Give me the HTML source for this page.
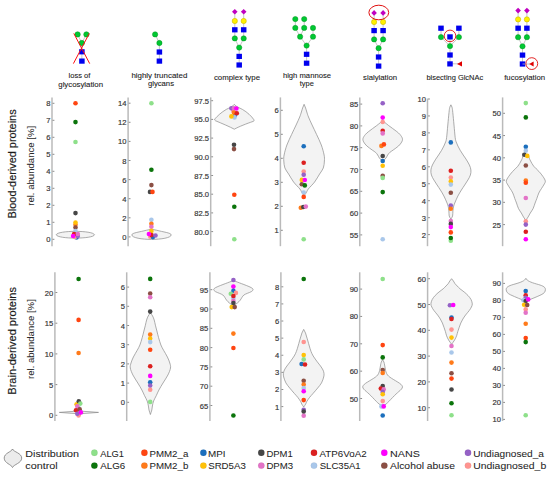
<!DOCTYPE html>
<html><head><meta charset="utf-8"><style>
html,body{margin:0;padding:0;background:#fff;}
svg{display:block;}
text{font-family:"Liberation Sans",sans-serif;}
.tk{font-size:7.6px;fill:#333;text-anchor:end;stroke:#333;stroke-width:0.16px;}
.tt{font-size:8px;fill:#222;stroke:#222;stroke-width:0.1px;}
.lg{font-size:9.5px;fill:#1e1e1e;stroke:#1e1e1e;stroke-width:0.05px;}
</style></head><body>
<svg width="550" height="477" viewBox="0 0 550 477">
<rect width="550" height="477" fill="#fff"/>
<polyline points="77.60,34.40 81.80,43.00 86.40,34.40" fill="none" stroke="#b8b8b8" stroke-width="0.8"/>
<polyline points="81.80,43.00 81.90,61.00" fill="none" stroke="#b8b8b8" stroke-width="0.8"/>
<circle cx="77.60" cy="34.40" r="2.70" fill="#00c832" stroke="#00901a" stroke-width="0.45"/>
<circle cx="86.40" cy="34.40" r="2.70" fill="#00c832" stroke="#00901a" stroke-width="0.45"/>
<circle cx="81.80" cy="43.00" r="2.70" fill="#00c832" stroke="#00901a" stroke-width="0.45"/>
<rect x="79.15" y="49.20" width="5.5" height="5.2" fill="#0000ee"/>
<rect x="79.15" y="58.50" width="5.5" height="5.2" fill="#0000ee"/>
<line x1="73.8" y1="33.4" x2="89.7" y2="63.6" stroke="#ff1010" stroke-width="1"/>
<line x1="89.3" y1="33.4" x2="73.4" y2="63.6" stroke="#ff1010" stroke-width="1"/>
<polyline points="155.10,34.40 159.40,43.00 159.40,61.00" fill="none" stroke="#b8b8b8" stroke-width="0.8"/>
<circle cx="155.10" cy="34.40" r="2.65" fill="#00c832" stroke="#00901a" stroke-width="0.45"/>
<circle cx="159.40" cy="43.00" r="2.65" fill="#00c832" stroke="#00901a" stroke-width="0.45"/>
<rect x="156.65" y="49.40" width="5.5" height="5.2" fill="#0000ee"/>
<rect x="156.65" y="58.50" width="5.5" height="5.2" fill="#0000ee"/>
<polyline points="234.80,11.80 234.80,38.40 239.20,47.60 243.70,38.40 243.70,11.80" fill="none" stroke="#b8b8b8" stroke-width="0.8"/>
<polyline points="239.20,47.60 239.20,65.00" fill="none" stroke="#b8b8b8" stroke-width="0.8"/>
<path d="M234.80,9.00 L237.60,11.80 L234.80,14.60 L232.00,11.80Z" fill="#c000c0"/>
<path d="M243.70,9.00 L246.50,11.80 L243.70,14.60 L240.90,11.80Z" fill="#c000c0"/>
<circle cx="234.80" cy="21.00" r="2.65" fill="#fff000" stroke="#b8a800" stroke-width="0.45"/>
<circle cx="243.70" cy="21.00" r="2.65" fill="#fff000" stroke="#b8a800" stroke-width="0.45"/>
<rect x="232.05" y="27.20" width="5.5" height="5.2" fill="#0000ee"/>
<rect x="240.95" y="27.20" width="5.5" height="5.2" fill="#0000ee"/>
<circle cx="234.80" cy="38.40" r="2.65" fill="#00c832" stroke="#00901a" stroke-width="0.45"/>
<circle cx="243.70" cy="38.40" r="2.65" fill="#00c832" stroke="#00901a" stroke-width="0.45"/>
<circle cx="239.20" cy="47.60" r="2.65" fill="#00c832" stroke="#00901a" stroke-width="0.45"/>
<rect x="236.45" y="53.80" width="5.5" height="5.2" fill="#0000ee"/>
<rect x="236.45" y="62.40" width="5.5" height="5.2" fill="#0000ee"/>
<polyline points="295.30,19.10 295.30,27.90 300.10,36.70 306.60,45.60 313.00,36.70 313.00,27.90" fill="none" stroke="#b8b8b8" stroke-width="0.8"/>
<polyline points="304.20,19.10 304.20,27.90 300.10,36.70" fill="none" stroke="#b8b8b8" stroke-width="0.8"/>
<polyline points="306.60,45.60 306.60,63.10" fill="none" stroke="#b8b8b8" stroke-width="0.8"/>
<circle cx="295.30" cy="19.10" r="2.65" fill="#00c832" stroke="#00901a" stroke-width="0.45"/>
<circle cx="304.20" cy="19.10" r="2.65" fill="#00c832" stroke="#00901a" stroke-width="0.45"/>
<circle cx="295.30" cy="27.90" r="2.65" fill="#00c832" stroke="#00901a" stroke-width="0.45"/>
<circle cx="304.20" cy="27.90" r="2.65" fill="#00c832" stroke="#00901a" stroke-width="0.45"/>
<circle cx="313.00" cy="27.90" r="2.65" fill="#00c832" stroke="#00901a" stroke-width="0.45"/>
<circle cx="300.10" cy="36.70" r="2.65" fill="#00c832" stroke="#00901a" stroke-width="0.45"/>
<circle cx="313.00" cy="36.70" r="2.65" fill="#00c832" stroke="#00901a" stroke-width="0.45"/>
<circle cx="306.60" cy="45.60" r="2.65" fill="#00c832" stroke="#00901a" stroke-width="0.45"/>
<rect x="303.85" y="51.70" width="5.5" height="5.2" fill="#0000ee"/>
<rect x="303.85" y="60.60" width="5.5" height="5.2" fill="#0000ee"/>
<polyline points="374.10,12.90 374.10,39.40 378.60,48.20 383.10,39.40 383.10,12.90" fill="none" stroke="#b8b8b8" stroke-width="0.8"/>
<polyline points="378.60,48.20 378.60,66.10" fill="none" stroke="#b8b8b8" stroke-width="0.8"/>
<path d="M374.10,10.10 L376.90,12.90 L374.10,15.70 L371.30,12.90Z" fill="#c000c0"/>
<path d="M383.10,10.10 L385.90,12.90 L383.10,15.70 L380.30,12.90Z" fill="#c000c0"/>
<circle cx="374.10" cy="22.00" r="2.65" fill="#fff000" stroke="#b8a800" stroke-width="0.45"/>
<circle cx="383.10" cy="22.00" r="2.65" fill="#fff000" stroke="#b8a800" stroke-width="0.45"/>
<rect x="371.35" y="28.00" width="5.5" height="5.2" fill="#0000ee"/>
<rect x="380.35" y="28.00" width="5.5" height="5.2" fill="#0000ee"/>
<circle cx="374.10" cy="39.40" r="2.65" fill="#00c832" stroke="#00901a" stroke-width="0.45"/>
<circle cx="383.10" cy="39.40" r="2.65" fill="#00c832" stroke="#00901a" stroke-width="0.45"/>
<circle cx="378.60" cy="48.20" r="2.65" fill="#00c832" stroke="#00901a" stroke-width="0.45"/>
<rect x="375.85" y="54.40" width="5.5" height="5.2" fill="#0000ee"/>
<rect x="375.85" y="63.50" width="5.5" height="5.2" fill="#0000ee"/>
<ellipse cx="378.8" cy="12.5" rx="9.9" ry="7.3" fill="none" stroke="#e01010" stroke-width="1"/>
<polyline points="441.00,28.20 441.00,37.10 450.00,46.10 458.90,37.10 458.90,28.20" fill="none" stroke="#b8b8b8" stroke-width="0.8"/>
<polyline points="450.00,36.90 450.00,63.80 460.00,63.80" fill="none" stroke="#b8b8b8" stroke-width="0.8"/>
<rect x="438.25" y="25.60" width="5.5" height="5.2" fill="#0000ee"/>
<rect x="456.15" y="25.60" width="5.5" height="5.2" fill="#0000ee"/>
<circle cx="441.00" cy="37.10" r="2.65" fill="#00c832" stroke="#00901a" stroke-width="0.45"/>
<circle cx="458.90" cy="37.10" r="2.65" fill="#00c832" stroke="#00901a" stroke-width="0.45"/>
<rect x="447.25" y="34.30" width="5.5" height="5.2" fill="#0000ee"/>
<circle cx="450.00" cy="46.10" r="2.65" fill="#00c832" stroke="#00901a" stroke-width="0.45"/>
<rect x="447.25" y="52.40" width="5.5" height="5.2" fill="#0000ee"/>
<rect x="447.25" y="61.30" width="5.5" height="5.2" fill="#0000ee"/>
<path d="M457.00,63.90 L462.00,61.30 L462.00,66.50Z" fill="#e00000"/>
<circle cx="450" cy="35.9" r="5.8" fill="none" stroke="#e01010" stroke-width="0.9"/>
<polyline points="518.10,10.60 518.10,37.20 522.50,46.30 526.90,37.20 526.90,10.60" fill="none" stroke="#b8b8b8" stroke-width="0.8"/>
<polyline points="522.50,46.30 522.50,64.00" fill="none" stroke="#b8b8b8" stroke-width="0.8"/>
<path d="M518.10,7.80 L520.90,10.60 L518.10,13.40 L515.30,10.60Z" fill="#c000c0"/>
<path d="M526.90,7.80 L529.70,10.60 L526.90,13.40 L524.10,10.60Z" fill="#c000c0"/>
<circle cx="518.10" cy="19.40" r="2.65" fill="#fff000" stroke="#b8a800" stroke-width="0.45"/>
<circle cx="526.90" cy="19.40" r="2.65" fill="#fff000" stroke="#b8a800" stroke-width="0.45"/>
<rect x="515.35" y="25.60" width="5.5" height="5.2" fill="#0000ee"/>
<rect x="524.15" y="25.60" width="5.5" height="5.2" fill="#0000ee"/>
<circle cx="518.10" cy="37.20" r="2.65" fill="#00c832" stroke="#00901a" stroke-width="0.45"/>
<circle cx="526.90" cy="37.20" r="2.65" fill="#00c832" stroke="#00901a" stroke-width="0.45"/>
<circle cx="522.50" cy="46.30" r="2.65" fill="#00c832" stroke="#00901a" stroke-width="0.45"/>
<rect x="519.75" y="52.50" width="5.5" height="5.2" fill="#0000ee"/>
<rect x="519.75" y="61.40" width="5.5" height="5.2" fill="#0000ee"/>
<polyline points="522.50,64.00 530.00,64.00" fill="none" stroke="#b8b8b8" stroke-width="0.8"/>
<path d="M529.20,64.00 L533.60,61.40 L533.60,66.60Z" fill="#e00000"/>
<circle cx="531.8" cy="63.6" r="5.9" fill="none" stroke="#e01010" stroke-width="0.9"/>
<g class="tt">
<text x="68.6" y="77.8" textLength="21.8" lengthAdjust="spacingAndGlyphs">loss of</text>
<text x="58.3" y="86.5" textLength="44.7" lengthAdjust="spacingAndGlyphs">glycosylation</text>
<text x="131.4" y="77.6" textLength="55.9" lengthAdjust="spacingAndGlyphs">highly truncated</text>
<text x="147.9" y="85.9" textLength="26.1" lengthAdjust="spacingAndGlyphs">glycans</text>
<text x="213.9" y="80.4" textLength="46.1" lengthAdjust="spacingAndGlyphs">complex type</text>
<text x="282.9" y="77.6" textLength="48.1" lengthAdjust="spacingAndGlyphs">high mannose</text>
<text x="299.8" y="85.9" textLength="14" lengthAdjust="spacingAndGlyphs">type</text>
<text x="363.1" y="80.4" textLength="34" lengthAdjust="spacingAndGlyphs">sialylation</text>
<text x="426.4" y="80.4" textLength="56.8" lengthAdjust="spacingAndGlyphs">bisecting GlcNAc</text>
<text x="504.2" y="80.4" textLength="40.9" lengthAdjust="spacingAndGlyphs">fucosylation</text>
</g>
<text transform="translate(16.1,218.4) rotate(-90)" font-size="10.2" fill="#1a1a1a" stroke="#1a1a1a" stroke-width="0.16" textLength="109" lengthAdjust="spacingAndGlyphs">Blood-derived proteins</text>
<text transform="translate(34.1,205.8) rotate(-90)" font-size="8.7" fill="#2a2a2a" stroke="#2a2a2a" stroke-width="0.05" textLength="80" lengthAdjust="spacingAndGlyphs">rel. abundance [%]</text>
<text transform="translate(15.9,394.7) rotate(-90)" font-size="10.2" fill="#1a1a1a" stroke="#1a1a1a" stroke-width="0.16" textLength="107.7" lengthAdjust="spacingAndGlyphs">Brain-derived proteins</text>
<text transform="translate(34.1,379) rotate(-90)" font-size="8.7" fill="#2a2a2a" stroke="#2a2a2a" stroke-width="0.05" textLength="79.8" lengthAdjust="spacingAndGlyphs">rel. abundance [%]</text>
<line x1="52.00" y1="97.40" x2="52.00" y2="246.20" stroke="#bababa" stroke-width="1.5"/>
<line x1="52.60" y1="239.30" x2="54.40" y2="239.30" stroke="#666" stroke-width="0.75"/>
<text x="50.40" y="242.30" class="tk">0</text>
<line x1="52.60" y1="222.30" x2="54.40" y2="222.30" stroke="#666" stroke-width="0.75"/>
<text x="50.40" y="225.30" class="tk">1</text>
<line x1="52.60" y1="205.30" x2="54.40" y2="205.30" stroke="#666" stroke-width="0.75"/>
<text x="50.40" y="208.30" class="tk">2</text>
<line x1="52.60" y1="188.30" x2="54.40" y2="188.30" stroke="#666" stroke-width="0.75"/>
<text x="50.40" y="191.30" class="tk">3</text>
<line x1="52.60" y1="171.30" x2="54.40" y2="171.30" stroke="#666" stroke-width="0.75"/>
<text x="50.40" y="174.30" class="tk">4</text>
<line x1="52.60" y1="154.30" x2="54.40" y2="154.30" stroke="#666" stroke-width="0.75"/>
<text x="50.40" y="157.30" class="tk">5</text>
<line x1="52.60" y1="137.30" x2="54.40" y2="137.30" stroke="#666" stroke-width="0.75"/>
<text x="50.40" y="140.30" class="tk">6</text>
<line x1="52.60" y1="120.30" x2="54.40" y2="120.30" stroke="#666" stroke-width="0.75"/>
<text x="50.40" y="123.30" class="tk">7</text>
<line x1="52.60" y1="103.30" x2="54.40" y2="103.30" stroke="#666" stroke-width="0.75"/>
<text x="50.40" y="106.30" class="tk">8</text>
<path d="M56.2,234.8 C57.5,230.2 93.2,230.2 94.5,234.8 C93.2,239.2 57.5,239.2 56.2,234.8Z" fill="#f3f3f3" stroke="#8a8a8a" stroke-width="0.7"/>
<circle cx="75.50" cy="103.20" r="2.30" fill="#ff4511"/>
<circle cx="75.50" cy="122.10" r="2.30" fill="#0b740b"/>
<circle cx="75.50" cy="142.00" r="2.30" fill="#8ee08a"/>
<circle cx="75.50" cy="213.10" r="2.30" fill="#464646"/>
<circle cx="75.50" cy="224.80" r="2.30" fill="#ff7a1a"/>
<circle cx="75.50" cy="222.50" r="2.30" fill="#ffc107"/>
<circle cx="75.50" cy="227.50" r="2.30" fill="#8b4f44"/>
<circle cx="75.50" cy="231.00" r="2.30" fill="#a9c7ea"/>
<circle cx="76.50" cy="237.50" r="2.30" fill="#1c6fbd"/>
<circle cx="75.00" cy="237.00" r="2.30" fill="#ff9490"/>
<circle cx="77.80" cy="236.00" r="2.30" fill="#9561c6"/>
<circle cx="74.10" cy="234.00" r="2.30" fill="#dc2020"/>
<circle cx="77.80" cy="234.00" r="2.30" fill="#e373c7"/>
<circle cx="73.10" cy="236.00" r="2.30" fill="#ff00ff"/>
<line x1="128.10" y1="97.40" x2="128.10" y2="246.20" stroke="#bababa" stroke-width="1.5"/>
<line x1="128.70" y1="236.90" x2="130.50" y2="236.90" stroke="#666" stroke-width="0.75"/>
<text x="126.50" y="239.90" class="tk">0</text>
<line x1="128.70" y1="217.80" x2="130.50" y2="217.80" stroke="#666" stroke-width="0.75"/>
<text x="126.50" y="220.80" class="tk">2</text>
<line x1="128.70" y1="198.70" x2="130.50" y2="198.70" stroke="#666" stroke-width="0.75"/>
<text x="126.50" y="201.70" class="tk">4</text>
<line x1="128.70" y1="179.60" x2="130.50" y2="179.60" stroke="#666" stroke-width="0.75"/>
<text x="126.50" y="182.60" class="tk">6</text>
<line x1="128.70" y1="160.50" x2="130.50" y2="160.50" stroke="#666" stroke-width="0.75"/>
<text x="126.50" y="163.50" class="tk">8</text>
<line x1="128.70" y1="141.40" x2="130.50" y2="141.40" stroke="#666" stroke-width="0.75"/>
<text x="126.50" y="144.40" class="tk">10</text>
<line x1="128.70" y1="122.30" x2="130.50" y2="122.30" stroke="#666" stroke-width="0.75"/>
<text x="126.50" y="125.30" class="tk">12</text>
<line x1="128.70" y1="103.20" x2="130.50" y2="103.20" stroke="#666" stroke-width="0.75"/>
<text x="126.50" y="106.20" class="tk">14</text>
<path d="M131.8,234.9 C131.8,232.8 140,232 146.5,230.2 Q151.5,228.3 156.5,230.2 C163,232 171.2,232.8 171.2,234.9 C171.2,237.8 161,239.4 151.5,239.4 C142,239.4 131.8,237.8 131.8,234.9Z" fill="#f3f3f3" stroke="#8a8a8a" stroke-width="0.7"/>
<circle cx="151.40" cy="103.20" r="2.30" fill="#8ee08a"/>
<circle cx="151.40" cy="169.70" r="2.30" fill="#0b740b"/>
<circle cx="151.40" cy="185.10" r="2.30" fill="#8b4f44"/>
<circle cx="150.00" cy="191.90" r="2.30" fill="#464646"/>
<circle cx="152.50" cy="191.90" r="2.30" fill="#ff4511"/>
<circle cx="151.40" cy="219.80" r="2.30" fill="#a9c7ea"/>
<circle cx="151.40" cy="223.70" r="2.30" fill="#ff7a1a"/>
<circle cx="151.40" cy="226.70" r="2.30" fill="#e373c7"/>
<circle cx="151.40" cy="230.90" r="2.30" fill="#ffc107"/>
<circle cx="150.30" cy="236.80" r="2.30" fill="#ff9490"/>
<circle cx="152.90" cy="237.10" r="2.30" fill="#1c6fbd"/>
<circle cx="151.50" cy="235.00" r="2.30" fill="#dc2020"/>
<circle cx="155.50" cy="235.50" r="2.30" fill="#9561c6"/>
<circle cx="148.90" cy="234.00" r="2.30" fill="#ff00ff"/>
<line x1="210.70" y1="97.40" x2="210.70" y2="246.20" stroke="#bababa" stroke-width="1.5"/>
<line x1="211.30" y1="100.70" x2="213.10" y2="100.70" stroke="#666" stroke-width="0.75"/>
<text x="209.10" y="103.70" class="tk">97.5</text>
<line x1="211.30" y1="119.40" x2="213.10" y2="119.40" stroke="#666" stroke-width="0.75"/>
<text x="209.10" y="122.40" class="tk">95.0</text>
<line x1="211.30" y1="138.10" x2="213.10" y2="138.10" stroke="#666" stroke-width="0.75"/>
<text x="209.10" y="141.10" class="tk">92.5</text>
<line x1="211.30" y1="156.80" x2="213.10" y2="156.80" stroke="#666" stroke-width="0.75"/>
<text x="209.10" y="159.80" class="tk">90.0</text>
<line x1="211.30" y1="175.50" x2="213.10" y2="175.50" stroke="#666" stroke-width="0.75"/>
<text x="209.10" y="178.50" class="tk">87.5</text>
<line x1="211.30" y1="194.20" x2="213.10" y2="194.20" stroke="#666" stroke-width="0.75"/>
<text x="209.10" y="197.20" class="tk">85.0</text>
<line x1="211.30" y1="212.90" x2="213.10" y2="212.90" stroke="#666" stroke-width="0.75"/>
<text x="209.10" y="215.90" class="tk">82.5</text>
<line x1="211.30" y1="231.60" x2="213.10" y2="231.60" stroke="#666" stroke-width="0.75"/>
<text x="209.10" y="234.60" class="tk">80.0</text>
<path d="M234.3,104.3 C232.5,107 229.5,107.6 226.3,109.4 C221.5,112.2 217.5,115.8 215,118.8 Q213.9,120 215.4,120.7 C222,123.5 230,126.8 234.3,129.2 C238.6,126.8 246.8,123.5 253.2,121.4 Q254.8,120.8 253.8,119.6 C251.5,116.2 247.3,112.2 242.4,109.4 C239.2,107.6 236.2,107 234.3,104.3Z" fill="#f3f3f3" stroke="#8a8a8a" stroke-width="0.7"/>
<circle cx="233.00" cy="110.00" r="2.30" fill="#ff9490"/>
<circle cx="235.00" cy="115.00" r="2.30" fill="#1c6fbd"/>
<circle cx="231.40" cy="108.20" r="2.30" fill="#9561c6"/>
<circle cx="234.00" cy="108.20" r="2.30" fill="#e373c7"/>
<circle cx="236.40" cy="108.50" r="2.30" fill="#ff00ff"/>
<circle cx="233.90" cy="112.60" r="2.30" fill="#ff7a1a"/>
<circle cx="236.80" cy="113.20" r="2.30" fill="#dc2020"/>
<circle cx="234.50" cy="117.40" r="2.30" fill="#a9c7ea"/>
<circle cx="231.40" cy="116.40" r="2.30" fill="#ffc107"/>
<circle cx="234.00" cy="144.70" r="2.30" fill="#464646"/>
<circle cx="234.00" cy="149.10" r="2.30" fill="#8b4f44"/>
<circle cx="234.30" cy="194.70" r="2.30" fill="#ff4511"/>
<circle cx="234.30" cy="206.70" r="2.30" fill="#0b740b"/>
<circle cx="234.30" cy="239.20" r="2.30" fill="#8ee08a"/>
<line x1="280.40" y1="97.40" x2="280.40" y2="246.20" stroke="#bababa" stroke-width="1.5"/>
<line x1="281.00" y1="230.30" x2="282.80" y2="230.30" stroke="#666" stroke-width="0.75"/>
<text x="278.80" y="233.30" class="tk">1</text>
<line x1="281.00" y1="206.30" x2="282.80" y2="206.30" stroke="#666" stroke-width="0.75"/>
<text x="278.80" y="209.30" class="tk">2</text>
<line x1="281.00" y1="182.30" x2="282.80" y2="182.30" stroke="#666" stroke-width="0.75"/>
<text x="278.80" y="185.30" class="tk">3</text>
<line x1="281.00" y1="158.30" x2="282.80" y2="158.30" stroke="#666" stroke-width="0.75"/>
<text x="278.80" y="161.30" class="tk">4</text>
<line x1="281.00" y1="134.30" x2="282.80" y2="134.30" stroke="#666" stroke-width="0.75"/>
<text x="278.80" y="137.30" class="tk">5</text>
<line x1="281.00" y1="110.30" x2="282.80" y2="110.30" stroke="#666" stroke-width="0.75"/>
<text x="278.80" y="113.30" class="tk">6</text>
<path d="M304.10,104.30 C304.55,105.41 305.15,106.72 305.60,108.00 C306.05,109.28 306.32,110.50 306.80,112.00 C307.28,113.50 307.62,114.83 308.50,117.00 C309.38,119.17 310.75,122.08 312.10,125.00 C313.45,127.92 315.07,131.17 316.60,134.50 C318.13,137.83 320.05,141.58 321.30,145.00 C322.55,148.42 323.58,152.33 324.10,155.00 C324.62,157.67 324.53,158.83 324.40,161.00 C324.27,163.17 324.10,165.83 323.30,168.00 C322.50,170.17 321.05,171.67 319.60,174.00 C318.15,176.33 316.48,179.50 314.60,182.00 C312.72,184.50 309.72,187.17 308.30,189.00 C306.88,190.83 306.80,191.92 306.10,193.00 C305.40,194.08 304.70,194.75 304.10,195.50 C303.50,194.75 302.80,194.08 302.10,193.00 C301.40,191.92 301.32,190.83 299.90,189.00 C298.48,187.17 295.48,184.50 293.60,182.00 C291.72,179.50 290.05,176.33 288.60,174.00 C287.15,171.67 285.70,170.17 284.90,168.00 C284.10,165.83 283.93,163.17 283.80,161.00 C283.67,158.83 283.58,157.67 284.10,155.00 C284.62,152.33 285.65,148.42 286.90,145.00 C288.15,141.58 290.07,137.83 291.60,134.50 C293.13,131.17 294.75,127.92 296.10,125.00 C297.45,122.08 298.82,119.17 299.70,117.00 C300.58,114.83 300.92,113.50 301.40,112.00 C301.88,110.50 302.15,109.28 302.60,108.00 C303.05,106.72 303.65,105.41 304.10,104.30Z" fill="#f3f3f3" stroke="#8a8a8a" stroke-width="0.7"/>
<circle cx="303.70" cy="146.20" r="2.30" fill="#1c6fbd"/>
<circle cx="303.70" cy="162.80" r="2.30" fill="#dc2020"/>
<circle cx="303.70" cy="171.60" r="2.30" fill="#ff9490"/>
<circle cx="303.70" cy="174.70" r="2.30" fill="#9561c6"/>
<circle cx="301.80" cy="179.90" r="2.30" fill="#ffc107"/>
<circle cx="304.80" cy="180.00" r="2.30" fill="#ff00ff"/>
<circle cx="301.80" cy="184.30" r="2.30" fill="#8b4f44"/>
<circle cx="304.80" cy="185.40" r="2.30" fill="#0b740b"/>
<circle cx="303.70" cy="192.50" r="2.30" fill="#a9c7ea"/>
<circle cx="303.70" cy="196.90" r="2.30" fill="#ff4511"/>
<circle cx="300.80" cy="207.80" r="2.30" fill="#ff7a1a"/>
<circle cx="303.30" cy="207.00" r="2.30" fill="#464646"/>
<circle cx="305.80" cy="206.60" r="2.30" fill="#e373c7"/>
<circle cx="303.70" cy="239.20" r="2.30" fill="#8ee08a"/>
<line x1="359.80" y1="97.40" x2="359.80" y2="246.20" stroke="#bababa" stroke-width="1.5"/>
<line x1="360.40" y1="104.10" x2="362.20" y2="104.10" stroke="#666" stroke-width="0.75"/>
<text x="358.20" y="107.10" class="tk">85</text>
<line x1="360.40" y1="125.90" x2="362.20" y2="125.90" stroke="#666" stroke-width="0.75"/>
<text x="358.20" y="128.90" class="tk">80</text>
<line x1="360.40" y1="147.70" x2="362.20" y2="147.70" stroke="#666" stroke-width="0.75"/>
<text x="358.20" y="150.70" class="tk">75</text>
<line x1="360.40" y1="169.50" x2="362.20" y2="169.50" stroke="#666" stroke-width="0.75"/>
<text x="358.20" y="172.50" class="tk">70</text>
<line x1="360.40" y1="191.30" x2="362.20" y2="191.30" stroke="#666" stroke-width="0.75"/>
<text x="358.20" y="194.30" class="tk">65</text>
<line x1="360.40" y1="213.10" x2="362.20" y2="213.10" stroke="#666" stroke-width="0.75"/>
<text x="358.20" y="216.10" class="tk">60</text>
<line x1="360.40" y1="234.90" x2="362.20" y2="234.90" stroke="#666" stroke-width="0.75"/>
<text x="358.20" y="237.90" class="tk">55</text>
<path d="M382.70,120.80 C383.36,121.31 383.90,121.70 384.90,122.50 C385.90,123.30 387.40,124.60 388.70,125.60 C390.00,126.60 391.37,127.52 392.70,128.50 C394.03,129.48 395.48,130.50 396.70,131.50 C397.92,132.50 399.05,133.33 400.00,134.50 C400.95,135.67 402.12,137.25 402.40,138.50 C402.68,139.75 402.35,140.75 401.70,142.00 C401.05,143.25 399.92,144.67 398.50,146.00 C397.08,147.33 394.67,148.92 393.20,150.00 C391.73,151.08 390.62,151.67 389.70,152.50 C388.78,153.33 388.32,154.08 387.70,155.00 C387.08,155.92 386.83,156.92 386.00,158.00 C385.17,159.08 383.69,160.45 382.70,161.50 C381.71,160.45 380.23,159.08 379.40,158.00 C378.57,156.92 378.32,155.92 377.70,155.00 C377.08,154.08 376.62,153.33 375.70,152.50 C374.78,151.67 373.67,151.08 372.20,150.00 C370.73,148.92 368.32,147.33 366.90,146.00 C365.48,144.67 364.35,143.25 363.70,142.00 C363.05,140.75 362.72,139.75 363.00,138.50 C363.28,137.25 364.45,135.67 365.40,134.50 C366.35,133.33 367.48,132.50 368.70,131.50 C369.92,130.50 371.37,129.48 372.70,128.50 C374.03,127.52 375.40,126.60 376.70,125.60 C378.00,124.60 379.50,123.30 380.50,122.50 C381.50,121.70 382.04,121.31 382.70,120.80Z" fill="#f3f3f3" stroke="#8a8a8a" stroke-width="0.7"/>
<circle cx="382.70" cy="103.20" r="2.30" fill="#9561c6"/>
<circle cx="382.70" cy="117.60" r="2.30" fill="#ff00ff"/>
<circle cx="382.70" cy="122.00" r="2.30" fill="#ff9490"/>
<circle cx="382.70" cy="130.80" r="2.30" fill="#dc2020"/>
<circle cx="382.70" cy="133.40" r="2.30" fill="#e373c7"/>
<circle cx="381.40" cy="145.90" r="2.30" fill="#ff7a1a"/>
<circle cx="383.90" cy="144.40" r="2.30" fill="#ff4511"/>
<circle cx="382.70" cy="156.00" r="2.30" fill="#464646"/>
<circle cx="382.70" cy="161.00" r="2.30" fill="#1c6fbd"/>
<circle cx="382.70" cy="165.70" r="2.30" fill="#ffc107"/>
<circle cx="382.70" cy="175.80" r="2.30" fill="#8b4f44"/>
<circle cx="382.70" cy="177.90" r="2.30" fill="#8ee08a"/>
<circle cx="382.70" cy="192.10" r="2.30" fill="#0b740b"/>
<circle cx="382.70" cy="239.20" r="2.30" fill="#a9c7ea"/>
<line x1="427.50" y1="98.50" x2="427.50" y2="246.20" stroke="#bababa" stroke-width="1.5"/>
<line x1="428.10" y1="99.00" x2="429.90" y2="99.00" stroke="#666" stroke-width="0.75"/>
<text x="425.90" y="102.00" class="tk">10</text>
<line x1="428.10" y1="115.95" x2="429.90" y2="115.95" stroke="#666" stroke-width="0.75"/>
<text x="425.90" y="118.95" class="tk">9</text>
<line x1="428.10" y1="132.90" x2="429.90" y2="132.90" stroke="#666" stroke-width="0.75"/>
<text x="425.90" y="135.90" class="tk">8</text>
<line x1="428.10" y1="149.85" x2="429.90" y2="149.85" stroke="#666" stroke-width="0.75"/>
<text x="425.90" y="152.85" class="tk">7</text>
<line x1="428.10" y1="166.80" x2="429.90" y2="166.80" stroke="#666" stroke-width="0.75"/>
<text x="425.90" y="169.80" class="tk">6</text>
<line x1="428.10" y1="183.75" x2="429.90" y2="183.75" stroke="#666" stroke-width="0.75"/>
<text x="425.90" y="186.75" class="tk">5</text>
<line x1="428.10" y1="200.70" x2="429.90" y2="200.70" stroke="#666" stroke-width="0.75"/>
<text x="425.90" y="203.70" class="tk">4</text>
<line x1="428.10" y1="217.65" x2="429.90" y2="217.65" stroke="#666" stroke-width="0.75"/>
<text x="425.90" y="220.65" class="tk">3</text>
<line x1="428.10" y1="234.60" x2="429.90" y2="234.60" stroke="#666" stroke-width="0.75"/>
<text x="425.90" y="237.60" class="tk">2</text>
<path d="M450.90,104.80 C451.26,105.61 451.78,106.20 452.10,107.50 C452.42,108.80 452.48,109.68 452.80,112.60 C453.12,115.52 453.60,120.82 454.00,125.00 C454.40,129.18 454.83,134.87 455.20,137.70 C455.57,140.53 455.75,140.62 456.20,142.00 C456.65,143.38 457.23,144.62 457.90,146.00 C458.57,147.38 459.32,148.80 460.20,150.30 C461.08,151.80 462.23,153.53 463.20,155.00 C464.17,156.47 464.97,157.43 466.00,159.10 C467.03,160.77 468.58,163.18 469.40,165.00 C470.22,166.82 470.73,168.33 470.90,170.00 C471.07,171.67 470.90,173.33 470.40,175.00 C469.90,176.67 468.85,178.33 467.90,180.00 C466.95,181.67 465.78,183.33 464.70,185.00 C463.62,186.67 462.53,188.17 461.40,190.00 C460.27,191.83 458.93,194.00 457.90,196.00 C456.87,198.00 455.90,200.33 455.20,202.00 C454.50,203.67 454.08,204.50 453.70,206.00 C453.32,207.50 453.08,209.33 452.90,211.00 C452.72,212.67 452.93,214.67 452.60,216.00 C452.27,217.33 451.41,218.10 450.90,219.00 C450.39,218.10 449.53,217.33 449.20,216.00 C448.87,214.67 449.08,212.67 448.90,211.00 C448.72,209.33 448.48,207.50 448.10,206.00 C447.72,204.50 447.30,203.67 446.60,202.00 C445.90,200.33 444.93,198.00 443.90,196.00 C442.87,194.00 441.53,191.83 440.40,190.00 C439.27,188.17 438.18,186.67 437.10,185.00 C436.02,183.33 434.85,181.67 433.90,180.00 C432.95,178.33 431.90,176.67 431.40,175.00 C430.90,173.33 430.73,171.67 430.90,170.00 C431.07,168.33 431.58,166.82 432.40,165.00 C433.22,163.18 434.77,160.77 435.80,159.10 C436.83,157.43 437.63,156.47 438.60,155.00 C439.57,153.53 440.72,151.80 441.60,150.30 C442.48,148.80 443.23,147.38 443.90,146.00 C444.57,144.62 445.15,143.38 445.60,142.00 C446.05,140.62 446.23,140.53 446.60,137.70 C446.97,134.87 447.40,129.18 447.80,125.00 C448.20,120.82 448.68,115.52 449.00,112.60 C449.32,109.68 449.38,108.80 449.70,107.50 C450.02,106.20 450.54,105.61 450.90,104.80Z" fill="#f3f3f3" stroke="#8a8a8a" stroke-width="0.7"/>
<circle cx="450.80" cy="142.40" r="2.30" fill="#1c6fbd"/>
<circle cx="450.80" cy="170.70" r="2.30" fill="#dc2020"/>
<circle cx="450.80" cy="177.60" r="2.30" fill="#ff9490"/>
<circle cx="450.80" cy="181.40" r="2.30" fill="#ffc107"/>
<circle cx="450.80" cy="184.60" r="2.30" fill="#a9c7ea"/>
<circle cx="450.80" cy="192.70" r="2.30" fill="#8b4f44"/>
<circle cx="450.80" cy="205.60" r="2.30" fill="#9561c6"/>
<circle cx="450.80" cy="208.80" r="2.30" fill="#ff7a1a"/>
<circle cx="450.80" cy="221.00" r="2.30" fill="#e373c7"/>
<circle cx="450.80" cy="223.90" r="2.30" fill="#464646"/>
<circle cx="450.80" cy="227.10" r="2.30" fill="#ff00ff"/>
<circle cx="450.80" cy="232.40" r="2.30" fill="#ff4511"/>
<circle cx="450.80" cy="240.80" r="2.30" fill="#8ee08a"/>
<circle cx="450.80" cy="238.00" r="2.30" fill="#0b740b"/>
<line x1="502.60" y1="97.40" x2="502.60" y2="246.20" stroke="#bababa" stroke-width="1.5"/>
<line x1="503.20" y1="113.30" x2="505.00" y2="113.30" stroke="#666" stroke-width="0.75"/>
<text x="501.00" y="116.30" class="tk">50</text>
<line x1="503.20" y1="135.56" x2="505.00" y2="135.56" stroke="#666" stroke-width="0.75"/>
<text x="501.00" y="138.56" class="tk">45</text>
<line x1="503.20" y1="157.82" x2="505.00" y2="157.82" stroke="#666" stroke-width="0.75"/>
<text x="501.00" y="160.82" class="tk">40</text>
<line x1="503.20" y1="180.08" x2="505.00" y2="180.08" stroke="#666" stroke-width="0.75"/>
<text x="501.00" y="183.08" class="tk">35</text>
<line x1="503.20" y1="202.34" x2="505.00" y2="202.34" stroke="#666" stroke-width="0.75"/>
<text x="501.00" y="205.34" class="tk">30</text>
<line x1="503.20" y1="224.60" x2="505.00" y2="224.60" stroke="#666" stroke-width="0.75"/>
<text x="501.00" y="227.60" class="tk">25</text>
<path d="M525.80,153.80 C526.58,154.37 527.80,154.92 528.40,155.70 C529.00,156.48 529.03,157.62 529.40,158.50 C529.77,159.38 529.88,159.72 530.60,161.00 C531.32,162.28 532.32,164.47 533.70,166.20 C535.08,167.93 537.33,169.65 538.90,171.40 C540.47,173.15 542.03,175.10 543.10,176.70 C544.17,178.30 545.10,179.78 545.30,181.00 C545.50,182.22 544.93,182.75 544.30,184.00 C543.67,185.25 542.42,187.00 541.50,188.50 C540.58,190.00 539.58,191.32 538.80,193.00 C538.02,194.68 537.42,196.93 536.80,198.60 C536.18,200.27 535.72,201.33 535.10,203.00 C534.48,204.67 533.90,206.93 533.10,208.60 C532.30,210.27 531.13,211.60 530.30,213.00 C529.47,214.40 528.85,215.77 528.10,217.00 C527.35,218.23 526.49,219.38 525.80,220.40 C525.11,219.38 524.25,218.23 523.50,217.00 C522.75,215.77 522.13,214.40 521.30,213.00 C520.47,211.60 519.30,210.27 518.50,208.60 C517.70,206.93 517.12,204.67 516.50,203.00 C515.88,201.33 515.42,200.27 514.80,198.60 C514.18,196.93 513.58,194.68 512.80,193.00 C512.02,191.32 511.02,190.00 510.10,188.50 C509.18,187.00 507.93,185.25 507.30,184.00 C506.67,182.75 506.10,182.22 506.30,181.00 C506.50,179.78 507.43,178.30 508.50,176.70 C509.57,175.10 511.13,173.15 512.70,171.40 C514.27,169.65 516.52,167.93 517.90,166.20 C519.28,164.47 520.28,162.28 521.00,161.00 C521.72,159.72 521.83,159.38 522.20,158.50 C522.57,157.62 522.60,156.48 523.20,155.70 C523.80,154.92 525.02,154.37 525.80,153.80Z" fill="#f3f3f3" stroke="#8a8a8a" stroke-width="0.7"/>
<circle cx="525.80" cy="103.10" r="2.30" fill="#8ee08a"/>
<circle cx="525.80" cy="117.40" r="2.30" fill="#0b740b"/>
<circle cx="525.80" cy="146.80" r="2.30" fill="#1c6fbd"/>
<circle cx="525.80" cy="150.70" r="2.30" fill="#a9c7ea"/>
<circle cx="524.30" cy="154.80" r="2.30" fill="#464646"/>
<circle cx="527.30" cy="155.90" r="2.30" fill="#ffc107"/>
<circle cx="525.80" cy="165.50" r="2.30" fill="#8b4f44"/>
<circle cx="525.80" cy="180.50" r="2.30" fill="#ff7a1a"/>
<circle cx="525.80" cy="182.80" r="2.30" fill="#ff4511"/>
<circle cx="525.80" cy="198.00" r="2.30" fill="#e373c7"/>
<circle cx="525.80" cy="221.20" r="2.30" fill="#ff9490"/>
<circle cx="525.80" cy="224.60" r="2.30" fill="#9561c6"/>
<circle cx="525.80" cy="231.80" r="2.30" fill="#dc2020"/>
<circle cx="525.80" cy="239.20" r="2.30" fill="#ff00ff"/>
<line x1="54.90" y1="272.30" x2="54.90" y2="421.00" stroke="#bababa" stroke-width="1.5"/>
<line x1="55.50" y1="415.30" x2="57.30" y2="415.30" stroke="#666" stroke-width="0.75"/>
<text x="53.30" y="418.30" class="tk">0</text>
<line x1="55.50" y1="384.60" x2="57.30" y2="384.60" stroke="#666" stroke-width="0.75"/>
<text x="53.30" y="387.60" class="tk">5</text>
<line x1="55.50" y1="353.90" x2="57.30" y2="353.90" stroke="#666" stroke-width="0.75"/>
<text x="53.30" y="356.90" class="tk">10</text>
<line x1="55.50" y1="323.20" x2="57.30" y2="323.20" stroke="#666" stroke-width="0.75"/>
<text x="53.30" y="326.20" class="tk">15</text>
<line x1="55.50" y1="292.50" x2="57.30" y2="292.50" stroke="#666" stroke-width="0.75"/>
<text x="53.30" y="295.50" class="tk">20</text>
<path d="M59.3,412.4 Q78.9,409.6 98.5,412.4 Q78.9,415.2 59.3,412.4Z" fill="#f3f3f3" stroke="#8a8a8a" stroke-width="0.7"/>
<circle cx="78.60" cy="279.00" r="2.30" fill="#0b740b"/>
<circle cx="78.60" cy="319.90" r="2.30" fill="#ff4511"/>
<circle cx="78.60" cy="353.00" r="2.30" fill="#ff7a1a"/>
<circle cx="78.60" cy="414.00" r="2.30" fill="#1c6fbd"/>
<circle cx="78.60" cy="408.00" r="2.30" fill="#a9c7ea"/>
<circle cx="76.60" cy="404.20" r="2.30" fill="#ffc107"/>
<circle cx="78.80" cy="401.20" r="2.30" fill="#464646"/>
<circle cx="80.30" cy="403.60" r="2.30" fill="#8ee08a"/>
<circle cx="77.30" cy="406.40" r="2.30" fill="#e373c7"/>
<circle cx="76.00" cy="410.30" r="2.30" fill="#dc2020"/>
<circle cx="79.70" cy="409.40" r="2.30" fill="#8b4f44"/>
<circle cx="78.60" cy="415.50" r="2.30" fill="#ff9490"/>
<circle cx="77.30" cy="413.80" r="2.30" fill="#9561c6"/>
<circle cx="80.90" cy="412.40" r="2.30" fill="#ff00ff"/>
<line x1="126.70" y1="272.30" x2="126.70" y2="421.00" stroke="#bababa" stroke-width="1.5"/>
<line x1="127.30" y1="402.30" x2="129.10" y2="402.30" stroke="#666" stroke-width="0.75"/>
<text x="125.10" y="405.30" class="tk">0</text>
<line x1="127.30" y1="383.10" x2="129.10" y2="383.10" stroke="#666" stroke-width="0.75"/>
<text x="125.10" y="386.10" class="tk">1</text>
<line x1="127.30" y1="363.90" x2="129.10" y2="363.90" stroke="#666" stroke-width="0.75"/>
<text x="125.10" y="366.90" class="tk">2</text>
<line x1="127.30" y1="344.70" x2="129.10" y2="344.70" stroke="#666" stroke-width="0.75"/>
<text x="125.10" y="347.70" class="tk">3</text>
<line x1="127.30" y1="325.50" x2="129.10" y2="325.50" stroke="#666" stroke-width="0.75"/>
<text x="125.10" y="328.50" class="tk">4</text>
<line x1="127.30" y1="306.30" x2="129.10" y2="306.30" stroke="#666" stroke-width="0.75"/>
<text x="125.10" y="309.30" class="tk">5</text>
<line x1="127.30" y1="287.10" x2="129.10" y2="287.10" stroke="#666" stroke-width="0.75"/>
<text x="125.10" y="290.10" class="tk">6</text>
<path d="M150.40,312.80 C151.06,313.76 151.97,314.80 152.60,316.00 C153.23,317.20 153.73,318.47 154.20,320.00 C154.67,321.53 154.95,323.37 155.40,325.20 C155.85,327.03 156.37,328.92 156.90,331.00 C157.43,333.08 157.93,335.37 158.60,337.70 C159.27,340.03 160.07,342.90 160.90,345.00 C161.73,347.10 162.52,348.30 163.60,350.30 C164.68,352.30 166.37,354.88 167.40,357.00 C168.43,359.12 169.28,361.17 169.80,363.00 C170.32,364.83 170.82,366.00 170.50,368.00 C170.18,370.00 169.15,372.50 167.90,375.00 C166.65,377.50 164.50,380.50 163.00,383.00 C161.50,385.50 160.02,387.90 158.90,390.00 C157.78,392.10 157.18,393.77 156.30,395.60 C155.42,397.43 154.25,399.27 153.60,401.00 C152.95,402.73 152.70,404.50 152.40,406.00 C152.10,407.50 152.13,408.58 151.80,410.00 C151.47,411.42 150.82,413.15 150.40,414.50 C149.98,413.15 149.33,411.42 149.00,410.00 C148.67,408.58 148.70,407.50 148.40,406.00 C148.10,404.50 147.85,402.73 147.20,401.00 C146.55,399.27 145.38,397.43 144.50,395.60 C143.62,393.77 143.02,392.10 141.90,390.00 C140.78,387.90 139.30,385.50 137.80,383.00 C136.30,380.50 134.15,377.50 132.90,375.00 C131.65,372.50 130.62,370.00 130.30,368.00 C129.98,366.00 130.48,364.83 131.00,363.00 C131.52,361.17 132.37,359.12 133.40,357.00 C134.43,354.88 136.12,352.30 137.20,350.30 C138.28,348.30 139.07,347.10 139.90,345.00 C140.73,342.90 141.53,340.03 142.20,337.70 C142.87,335.37 143.37,333.08 143.90,331.00 C144.43,328.92 144.95,327.03 145.40,325.20 C145.85,323.37 146.13,321.53 146.60,320.00 C147.07,318.47 147.57,317.20 148.20,316.00 C148.83,314.80 149.74,313.76 150.40,312.80Z" fill="#f3f3f3" stroke="#8a8a8a" stroke-width="0.7"/>
<circle cx="150.20" cy="278.90" r="2.30" fill="#0b740b"/>
<circle cx="150.20" cy="293.50" r="2.30" fill="#8b4f44"/>
<circle cx="150.20" cy="297.30" r="2.30" fill="#e373c7"/>
<circle cx="150.20" cy="311.60" r="2.30" fill="#464646"/>
<circle cx="150.20" cy="334.60" r="2.30" fill="#ff7a1a"/>
<circle cx="150.20" cy="338.50" r="2.30" fill="#ffc107"/>
<circle cx="150.20" cy="342.10" r="2.30" fill="#a9c7ea"/>
<circle cx="150.20" cy="349.80" r="2.30" fill="#ff4511"/>
<circle cx="150.20" cy="366.20" r="2.30" fill="#dc2020"/>
<circle cx="150.20" cy="375.90" r="2.30" fill="#ff00ff"/>
<circle cx="150.20" cy="382.30" r="2.30" fill="#1c6fbd"/>
<circle cx="150.20" cy="385.60" r="2.30" fill="#9561c6"/>
<circle cx="150.20" cy="389.80" r="2.30" fill="#ff9490"/>
<circle cx="150.20" cy="401.90" r="2.30" fill="#8ee08a"/>
<line x1="209.90" y1="272.30" x2="209.90" y2="421.00" stroke="#bababa" stroke-width="1.5"/>
<line x1="210.50" y1="289.70" x2="212.30" y2="289.70" stroke="#666" stroke-width="0.75"/>
<text x="208.30" y="292.70" class="tk">95</text>
<line x1="210.50" y1="309.00" x2="212.30" y2="309.00" stroke="#666" stroke-width="0.75"/>
<text x="208.30" y="312.00" class="tk">90</text>
<line x1="210.50" y1="328.30" x2="212.30" y2="328.30" stroke="#666" stroke-width="0.75"/>
<text x="208.30" y="331.30" class="tk">85</text>
<line x1="210.50" y1="347.60" x2="212.30" y2="347.60" stroke="#666" stroke-width="0.75"/>
<text x="208.30" y="350.60" class="tk">80</text>
<line x1="210.50" y1="366.90" x2="212.30" y2="366.90" stroke="#666" stroke-width="0.75"/>
<text x="208.30" y="369.90" class="tk">75</text>
<line x1="210.50" y1="386.20" x2="212.30" y2="386.20" stroke="#666" stroke-width="0.75"/>
<text x="208.30" y="389.20" class="tk">70</text>
<line x1="210.50" y1="405.50" x2="212.30" y2="405.50" stroke="#666" stroke-width="0.75"/>
<text x="208.30" y="408.50" class="tk">65</text>
<path d="M233.40,280.60 C234.54,281.02 235.87,281.50 237.20,282.00 C238.53,282.50 239.87,283.02 241.40,283.60 C242.93,284.18 244.77,284.83 246.40,285.50 C248.03,286.17 250.08,286.93 251.20,287.60 C252.32,288.27 253.07,288.83 253.10,289.50 C253.13,290.17 252.35,290.97 251.40,291.60 C250.45,292.23 248.65,292.73 247.40,293.30 C246.15,293.87 244.82,294.30 243.90,295.00 C242.98,295.70 242.52,296.63 241.90,297.50 C241.28,298.37 240.95,299.28 240.20,300.20 C239.45,301.12 238.53,302.07 237.40,303.00 C236.27,303.93 234.60,304.96 233.40,305.80 C232.20,304.96 230.53,303.93 229.40,303.00 C228.27,302.07 227.35,301.12 226.60,300.20 C225.85,299.28 225.52,298.37 224.90,297.50 C224.28,296.63 223.82,295.70 222.90,295.00 C221.98,294.30 220.65,293.87 219.40,293.30 C218.15,292.73 216.35,292.23 215.40,291.60 C214.45,290.97 213.67,290.17 213.70,289.50 C213.73,288.83 214.48,288.27 215.60,287.60 C216.72,286.93 218.77,286.17 220.40,285.50 C222.03,284.83 223.87,284.18 225.40,283.60 C226.93,283.02 228.27,282.50 229.60,282.00 C230.93,281.50 232.26,281.02 233.40,280.60Z" fill="#f3f3f3" stroke="#8a8a8a" stroke-width="0.7"/>
<circle cx="233.40" cy="298.00" r="2.30" fill="#a9c7ea"/>
<circle cx="233.40" cy="280.00" r="2.30" fill="#9561c6"/>
<circle cx="233.40" cy="286.60" r="2.30" fill="#ff00ff"/>
<circle cx="233.40" cy="290.90" r="2.30" fill="#1c6fbd"/>
<circle cx="230.80" cy="293.80" r="2.30" fill="#8ee08a"/>
<circle cx="235.90" cy="292.90" r="2.30" fill="#ff9490"/>
<circle cx="233.40" cy="296.00" r="2.30" fill="#dc2020"/>
<circle cx="233.40" cy="300.90" r="2.30" fill="#e373c7"/>
<circle cx="233.40" cy="303.00" r="2.30" fill="#464646"/>
<circle cx="231.70" cy="307.10" r="2.30" fill="#ffc107"/>
<circle cx="234.70" cy="307.10" r="2.30" fill="#8b4f44"/>
<circle cx="233.40" cy="333.60" r="2.30" fill="#ff7a1a"/>
<circle cx="233.40" cy="348.00" r="2.30" fill="#ff4511"/>
<circle cx="233.40" cy="415.50" r="2.30" fill="#0b740b"/>
<line x1="280.90" y1="272.30" x2="280.90" y2="421.00" stroke="#bababa" stroke-width="1.5"/>
<line x1="281.50" y1="406.60" x2="283.30" y2="406.60" stroke="#666" stroke-width="0.75"/>
<text x="279.30" y="409.60" class="tk">1</text>
<line x1="281.50" y1="389.49" x2="283.30" y2="389.49" stroke="#666" stroke-width="0.75"/>
<text x="279.30" y="392.49" class="tk">2</text>
<line x1="281.50" y1="372.37" x2="283.30" y2="372.37" stroke="#666" stroke-width="0.75"/>
<text x="279.30" y="375.37" class="tk">3</text>
<line x1="281.50" y1="355.26" x2="283.30" y2="355.26" stroke="#666" stroke-width="0.75"/>
<text x="279.30" y="358.26" class="tk">4</text>
<line x1="281.50" y1="338.14" x2="283.30" y2="338.14" stroke="#666" stroke-width="0.75"/>
<text x="279.30" y="341.14" class="tk">5</text>
<line x1="281.50" y1="321.03" x2="283.30" y2="321.03" stroke="#666" stroke-width="0.75"/>
<text x="279.30" y="324.03" class="tk">6</text>
<line x1="281.50" y1="303.91" x2="283.30" y2="303.91" stroke="#666" stroke-width="0.75"/>
<text x="279.30" y="306.91" class="tk">7</text>
<line x1="281.50" y1="286.80" x2="283.30" y2="286.80" stroke="#666" stroke-width="0.75"/>
<text x="279.30" y="289.80" class="tk">8</text>
<path d="M303.70,329.40 C304.24,330.48 305.00,331.73 305.50,333.00 C306.00,334.27 306.30,335.67 306.70,337.00 C307.10,338.33 307.47,339.50 307.90,341.00 C308.33,342.50 308.78,344.27 309.30,346.00 C309.82,347.73 310.35,349.73 311.00,351.40 C311.65,353.07 312.15,354.25 313.20,356.00 C314.25,357.75 316.08,360.23 317.30,361.90 C318.52,363.57 319.55,364.65 320.50,366.00 C321.45,367.35 322.42,368.75 323.00,370.00 C323.58,371.25 323.88,372.33 324.00,373.50 C324.12,374.67 324.12,375.43 323.70,377.00 C323.28,378.57 322.50,381.07 321.50,382.90 C320.50,384.73 319.10,386.25 317.70,388.00 C316.30,389.75 314.47,391.82 313.10,393.40 C311.73,394.98 310.58,396.10 309.50,397.50 C308.42,398.90 307.23,400.72 306.60,401.80 C305.97,402.88 306.18,403.13 305.70,404.00 C305.22,404.87 304.30,406.10 303.70,407.00 C303.10,406.10 302.18,404.87 301.70,404.00 C301.22,403.13 301.43,402.88 300.80,401.80 C300.17,400.72 298.98,398.90 297.90,397.50 C296.82,396.10 295.67,394.98 294.30,393.40 C292.93,391.82 291.10,389.75 289.70,388.00 C288.30,386.25 286.90,384.73 285.90,382.90 C284.90,381.07 284.12,378.57 283.70,377.00 C283.28,375.43 283.28,374.67 283.40,373.50 C283.52,372.33 283.82,371.25 284.40,370.00 C284.98,368.75 285.95,367.35 286.90,366.00 C287.85,364.65 288.88,363.57 290.10,361.90 C291.32,360.23 293.15,357.75 294.20,356.00 C295.25,354.25 295.75,353.07 296.40,351.40 C297.05,349.73 297.58,347.73 298.10,346.00 C298.62,344.27 299.07,342.50 299.50,341.00 C299.93,339.50 300.30,338.33 300.70,337.00 C301.10,335.67 301.40,334.27 301.90,333.00 C302.40,331.73 303.16,330.48 303.70,329.40Z" fill="#f3f3f3" stroke="#8a8a8a" stroke-width="0.7"/>
<circle cx="303.70" cy="279.00" r="2.30" fill="#0b740b"/>
<circle cx="303.70" cy="342.00" r="2.30" fill="#ff9490"/>
<circle cx="303.70" cy="355.00" r="2.30" fill="#ffc107"/>
<circle cx="303.70" cy="359.40" r="2.30" fill="#8ee08a"/>
<circle cx="301.60" cy="364.00" r="2.30" fill="#1c6fbd"/>
<circle cx="305.00" cy="364.50" r="2.30" fill="#dc2020"/>
<circle cx="303.70" cy="380.80" r="2.30" fill="#8b4f44"/>
<circle cx="303.70" cy="384.60" r="2.30" fill="#ff7a1a"/>
<circle cx="303.70" cy="388.10" r="2.30" fill="#a9c7ea"/>
<circle cx="303.70" cy="391.30" r="2.30" fill="#ff00ff"/>
<circle cx="303.70" cy="400.10" r="2.30" fill="#ff4511"/>
<circle cx="303.70" cy="409.70" r="2.30" fill="#9561c6"/>
<circle cx="303.70" cy="411.60" r="2.30" fill="#464646"/>
<circle cx="303.70" cy="415.80" r="2.30" fill="#e373c7"/>
<line x1="359.70" y1="272.30" x2="359.70" y2="421.00" stroke="#bababa" stroke-width="1.5"/>
<line x1="360.30" y1="289.10" x2="362.10" y2="289.10" stroke="#666" stroke-width="0.75"/>
<text x="358.10" y="292.10" class="tk">90</text>
<line x1="360.30" y1="316.45" x2="362.10" y2="316.45" stroke="#666" stroke-width="0.75"/>
<text x="358.10" y="319.45" class="tk">80</text>
<line x1="360.30" y1="343.80" x2="362.10" y2="343.80" stroke="#666" stroke-width="0.75"/>
<text x="358.10" y="346.80" class="tk">70</text>
<line x1="360.30" y1="371.15" x2="362.10" y2="371.15" stroke="#666" stroke-width="0.75"/>
<text x="358.10" y="374.15" class="tk">60</text>
<line x1="360.30" y1="398.50" x2="362.10" y2="398.50" stroke="#666" stroke-width="0.75"/>
<text x="358.10" y="401.50" class="tk">50</text>
<path d="M382.60,359.60 C382.99,360.32 383.57,361.10 383.90,362.00 C384.23,362.90 384.37,363.83 384.60,365.00 C384.83,366.17 385.07,367.83 385.30,369.00 C385.53,370.17 385.63,371.00 386.00,372.00 C386.37,373.00 386.85,374.13 387.50,375.00 C388.15,375.87 388.93,376.47 389.90,377.20 C390.87,377.93 392.02,378.60 393.30,379.40 C394.58,380.20 396.33,381.18 397.60,382.00 C398.87,382.82 400.08,383.50 400.90,384.30 C401.72,385.10 402.42,385.98 402.50,386.80 C402.58,387.62 402.00,388.42 401.40,389.20 C400.80,389.98 399.80,390.68 398.90,391.50 C398.00,392.32 397.05,393.10 396.00,394.10 C394.95,395.10 393.80,396.27 392.60,397.50 C391.40,398.73 389.88,400.42 388.80,401.50 C387.72,402.58 387.13,403.15 386.10,404.00 C385.07,404.85 383.65,405.82 382.60,406.60 C381.55,405.82 380.13,404.85 379.10,404.00 C378.07,403.15 377.48,402.58 376.40,401.50 C375.32,400.42 373.80,398.73 372.60,397.50 C371.40,396.27 370.25,395.10 369.20,394.10 C368.15,393.10 367.20,392.32 366.30,391.50 C365.40,390.68 364.40,389.98 363.80,389.20 C363.20,388.42 362.62,387.62 362.70,386.80 C362.78,385.98 363.48,385.10 364.30,384.30 C365.12,383.50 366.33,382.82 367.60,382.00 C368.87,381.18 370.62,380.20 371.90,379.40 C373.18,378.60 374.33,377.93 375.30,377.20 C376.27,376.47 377.05,375.87 377.70,375.00 C378.35,374.13 378.83,373.00 379.20,372.00 C379.57,371.00 379.67,370.17 379.90,369.00 C380.13,367.83 380.37,366.17 380.60,365.00 C380.83,363.83 380.97,362.90 381.30,362.00 C381.63,361.10 382.21,360.32 382.60,359.60Z" fill="#f3f3f3" stroke="#8a8a8a" stroke-width="0.7"/>
<circle cx="382.70" cy="279.00" r="2.30" fill="#8ee08a"/>
<circle cx="382.70" cy="345.10" r="2.30" fill="#ff4511"/>
<circle cx="382.70" cy="357.40" r="2.30" fill="#0b740b"/>
<circle cx="382.70" cy="370.00" r="2.30" fill="#8b4f44"/>
<circle cx="382.70" cy="373.00" r="2.30" fill="#ff7a1a"/>
<circle cx="382.70" cy="386.00" r="2.30" fill="#464646"/>
<circle cx="380.80" cy="388.50" r="2.30" fill="#dc2020"/>
<circle cx="383.70" cy="389.40" r="2.30" fill="#e373c7"/>
<circle cx="382.70" cy="391.90" r="2.30" fill="#9561c6"/>
<circle cx="382.70" cy="394.20" r="2.30" fill="#ffc107"/>
<circle cx="382.70" cy="401.10" r="2.30" fill="#ff9490"/>
<circle cx="381.40" cy="406.40" r="2.30" fill="#a9c7ea"/>
<circle cx="383.70" cy="406.40" r="2.30" fill="#ff00ff"/>
<circle cx="382.70" cy="415.50" r="2.30" fill="#1c6fbd"/>
<line x1="427.60" y1="272.30" x2="427.60" y2="421.00" stroke="#bababa" stroke-width="1.5"/>
<line x1="428.20" y1="278.70" x2="430.00" y2="278.70" stroke="#666" stroke-width="0.75"/>
<text x="426.00" y="281.70" class="tk">60</text>
<line x1="428.20" y1="304.50" x2="430.00" y2="304.50" stroke="#666" stroke-width="0.75"/>
<text x="426.00" y="307.50" class="tk">50</text>
<line x1="428.20" y1="330.30" x2="430.00" y2="330.30" stroke="#666" stroke-width="0.75"/>
<text x="426.00" y="333.30" class="tk">40</text>
<line x1="428.20" y1="356.10" x2="430.00" y2="356.10" stroke="#666" stroke-width="0.75"/>
<text x="426.00" y="359.10" class="tk">30</text>
<line x1="428.20" y1="381.90" x2="430.00" y2="381.90" stroke="#666" stroke-width="0.75"/>
<text x="426.00" y="384.90" class="tk">20</text>
<line x1="428.20" y1="407.70" x2="430.00" y2="407.70" stroke="#666" stroke-width="0.75"/>
<text x="426.00" y="410.70" class="tk">10</text>
<path d="M451.60,278.70 C452.14,279.39 452.83,280.17 453.40,281.00 C453.97,281.83 454.37,282.87 455.00,283.70 C455.63,284.53 456.37,285.15 457.20,286.00 C458.03,286.85 458.83,287.80 460.00,288.80 C461.17,289.80 462.87,290.88 464.20,292.00 C465.53,293.12 466.87,294.25 468.00,295.50 C469.13,296.75 470.28,298.10 471.00,299.50 C471.72,300.90 472.23,302.65 472.30,303.90 C472.37,305.15 471.92,305.88 471.40,307.00 C470.88,308.12 470.17,309.27 469.20,310.60 C468.23,311.93 466.65,313.60 465.60,315.00 C464.55,316.40 463.70,317.67 462.90,319.00 C462.10,320.33 461.42,321.60 460.80,323.00 C460.18,324.40 459.70,325.98 459.20,327.40 C458.70,328.82 458.23,330.10 457.80,331.50 C457.37,332.90 457.13,334.38 456.60,335.80 C456.07,337.22 455.43,338.58 454.60,340.00 C453.77,341.42 452.50,343.01 451.60,344.30 C450.70,343.01 449.43,341.42 448.60,340.00 C447.77,338.58 447.13,337.22 446.60,335.80 C446.07,334.38 445.83,332.90 445.40,331.50 C444.97,330.10 444.50,328.82 444.00,327.40 C443.50,325.98 443.02,324.40 442.40,323.00 C441.78,321.60 441.10,320.33 440.30,319.00 C439.50,317.67 438.65,316.40 437.60,315.00 C436.55,313.60 434.97,311.93 434.00,310.60 C433.03,309.27 432.32,308.12 431.80,307.00 C431.28,305.88 430.83,305.15 430.90,303.90 C430.97,302.65 431.48,300.90 432.20,299.50 C432.92,298.10 434.07,296.75 435.20,295.50 C436.33,294.25 437.67,293.12 439.00,292.00 C440.33,290.88 442.03,289.80 443.20,288.80 C444.37,287.80 445.17,286.85 446.00,286.00 C446.83,285.15 447.57,284.53 448.20,283.70 C448.83,282.87 449.23,281.83 449.80,281.00 C450.37,280.17 451.06,279.39 451.60,278.70Z" fill="#f3f3f3" stroke="#8a8a8a" stroke-width="0.7"/>
<circle cx="449.90" cy="305.20" r="2.30" fill="#9561c6"/>
<circle cx="453.20" cy="305.00" r="2.30" fill="#ff00ff"/>
<circle cx="451.50" cy="317.50" r="2.30" fill="#1c6fbd"/>
<circle cx="451.50" cy="319.00" r="2.30" fill="#dc2020"/>
<circle cx="451.50" cy="329.60" r="2.30" fill="#ff9490"/>
<circle cx="451.50" cy="337.60" r="2.30" fill="#ffc107"/>
<circle cx="451.50" cy="346.00" r="2.30" fill="#e373c7"/>
<circle cx="451.50" cy="352.50" r="2.30" fill="#a9c7ea"/>
<circle cx="451.50" cy="362.60" r="2.30" fill="#ff7a1a"/>
<circle cx="451.50" cy="373.30" r="2.30" fill="#8b4f44"/>
<circle cx="451.50" cy="378.60" r="2.30" fill="#ff4511"/>
<circle cx="451.50" cy="389.50" r="2.30" fill="#464646"/>
<circle cx="451.50" cy="403.20" r="2.30" fill="#0b740b"/>
<circle cx="451.50" cy="415.30" r="2.30" fill="#8ee08a"/>
<line x1="502.60" y1="272.30" x2="502.60" y2="421.00" stroke="#bababa" stroke-width="1.5"/>
<line x1="503.20" y1="283.40" x2="505.00" y2="283.40" stroke="#666" stroke-width="0.75"/>
<text x="501.00" y="286.40" class="tk">90</text>
<line x1="503.20" y1="300.40" x2="505.00" y2="300.40" stroke="#666" stroke-width="0.75"/>
<text x="501.00" y="303.40" class="tk">80</text>
<line x1="503.20" y1="317.40" x2="505.00" y2="317.40" stroke="#666" stroke-width="0.75"/>
<text x="501.00" y="320.40" class="tk">70</text>
<line x1="503.20" y1="334.40" x2="505.00" y2="334.40" stroke="#666" stroke-width="0.75"/>
<text x="501.00" y="337.40" class="tk">60</text>
<line x1="503.20" y1="351.40" x2="505.00" y2="351.40" stroke="#666" stroke-width="0.75"/>
<text x="501.00" y="354.40" class="tk">50</text>
<line x1="503.20" y1="368.40" x2="505.00" y2="368.40" stroke="#666" stroke-width="0.75"/>
<text x="501.00" y="371.40" class="tk">40</text>
<line x1="503.20" y1="385.40" x2="505.00" y2="385.40" stroke="#666" stroke-width="0.75"/>
<text x="501.00" y="388.40" class="tk">30</text>
<line x1="503.20" y1="402.40" x2="505.00" y2="402.40" stroke="#666" stroke-width="0.75"/>
<text x="501.00" y="405.40" class="tk">20</text>
<line x1="503.20" y1="419.40" x2="505.00" y2="419.40" stroke="#666" stroke-width="0.75"/>
<text x="501.00" y="422.40" class="tk">10</text>
<path d="M525.9,278.3 C524.8,280.8 521,282.3 515,284 C510,285.4 506.2,286.6 506.2,289.4 C506.2,292 507.5,293.3 510.5,294.8 C515.5,297.2 522,299.6 525.8,301.3 C529.6,299.6 536.1,297.2 541.1,294.8 C544.1,293.3 545.4,292 545.4,289.4 C545.4,286.6 541.6,285.4 536.6,284 C530.6,282.3 527,280.8 525.9,278.3Z" fill="#f3f3f3" stroke="#8a8a8a" stroke-width="0.7"/>
<circle cx="525.70" cy="291.00" r="2.30" fill="#1c6fbd"/>
<circle cx="525.70" cy="295.20" r="2.30" fill="#dc2020"/>
<circle cx="525.70" cy="297.70" r="2.30" fill="#9561c6"/>
<circle cx="523.50" cy="300.20" r="2.30" fill="#a9c7ea"/>
<circle cx="525.70" cy="301.00" r="2.30" fill="#464646"/>
<circle cx="528.20" cy="299.40" r="2.30" fill="#ff00ff"/>
<circle cx="524.10" cy="304.80" r="2.30" fill="#ffc107"/>
<circle cx="527.20" cy="305.00" r="2.30" fill="#8b4f44"/>
<circle cx="525.70" cy="309.40" r="2.30" fill="#ff9490"/>
<circle cx="525.70" cy="312.80" r="2.30" fill="#e373c7"/>
<circle cx="525.70" cy="323.70" r="2.30" fill="#ff7a1a"/>
<circle cx="525.70" cy="338.00" r="2.30" fill="#ff4511"/>
<circle cx="525.70" cy="342.10" r="2.30" fill="#0b740b"/>
<circle cx="525.70" cy="415.30" r="2.30" fill="#8ee08a"/>
<path d="M12.5,449 C13.5,452 21.7,453 21.7,458.1 C21.7,463.2 13.5,464.5 12.5,467.5 C11.5,464.5 4.2,463.2 4.2,458.1 C4.2,453 11.5,452 12.5,449Z" fill="#ececec" stroke="#7a7a7a" stroke-width="0.8"/>
<g class="lg">
<text x="25.3" y="457" textLength="53.8" lengthAdjust="spacingAndGlyphs">Distribution</text>
<text x="25.3" y="469.0" textLength="32.4" lengthAdjust="spacingAndGlyphs">control</text>
<circle cx="94.4" cy="452.7" r="3.2" fill="#8ee08a"/>
<text x="100.2" y="456.7" textLength="23.8" lengthAdjust="spacingAndGlyphs">ALG1</text>
<circle cx="94.4" cy="465.6" r="3.2" fill="#0b740b"/>
<text x="100.2" y="469.2" textLength="25.0" lengthAdjust="spacingAndGlyphs">ALG6</text>
<circle cx="144.4" cy="452.7" r="3.2" fill="#ff4511"/>
<text x="149.5" y="456.7" textLength="38.8" lengthAdjust="spacingAndGlyphs">PMM2_a</text>
<circle cx="144.4" cy="465.6" r="3.2" fill="#ff7a1a"/>
<text x="149.5" y="469.2" textLength="38.8" lengthAdjust="spacingAndGlyphs">PMM2_b</text>
<circle cx="203.4" cy="452.7" r="3.2" fill="#1c6fbd"/>
<text x="208.0" y="456.7" textLength="17.5" lengthAdjust="spacingAndGlyphs">MPI</text>
<circle cx="203.4" cy="465.6" r="3.2" fill="#ffc107"/>
<text x="208.2" y="469.2" textLength="37.6" lengthAdjust="spacingAndGlyphs">SRD5A3</text>
<circle cx="261.3" cy="452.7" r="3.2" fill="#464646"/>
<text x="266.4" y="456.7" textLength="26.4" lengthAdjust="spacingAndGlyphs">DPM1</text>
<circle cx="261.3" cy="465.6" r="3.2" fill="#e373c7"/>
<text x="266.4" y="469.2" textLength="26.8" lengthAdjust="spacingAndGlyphs">DPM3</text>
<circle cx="314.0" cy="452.7" r="3.2" fill="#dc2020"/>
<text x="319.6" y="456.7" textLength="47.0" lengthAdjust="spacingAndGlyphs">ATP6VoA2</text>
<circle cx="314.0" cy="465.6" r="3.2" fill="#a9c7ea"/>
<text x="319.7" y="469.2" textLength="41.0" lengthAdjust="spacingAndGlyphs">SLC35A1</text>
<circle cx="384.3" cy="452.7" r="3.2" fill="#ff00ff"/>
<text x="390.0" y="456.7" textLength="29.8" lengthAdjust="spacingAndGlyphs">NANS</text>
<circle cx="384.3" cy="465.6" r="3.2" fill="#8b4f44"/>
<text x="390.0" y="469.2" textLength="65.0" lengthAdjust="spacingAndGlyphs">Alcohol abuse</text>
<circle cx="468.0" cy="452.7" r="3.2" fill="#9561c6"/>
<text x="473.2" y="456.7" textLength="70.8" lengthAdjust="spacingAndGlyphs">Undiagnosed_a</text>
<circle cx="468.0" cy="465.6" r="3.2" fill="#ff9490"/>
<text x="473.2" y="469.2" textLength="73.0" lengthAdjust="spacingAndGlyphs">Undiagnosed_b</text>
</g>
</svg>
</body></html>
